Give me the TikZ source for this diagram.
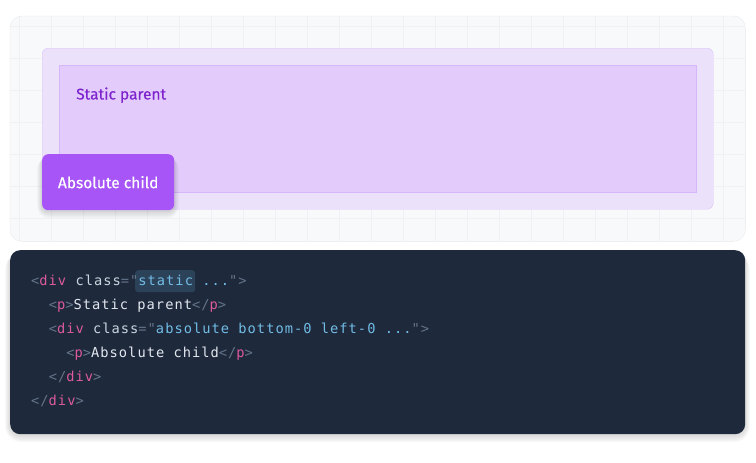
\documentclass[tikz,border=0pt]{standalone}
\usepackage{fontspec}
\usepackage{xcolor}
\setsansfont{Fira Sans}[FakeBold=0.35]
\newfontfamily\codefont[LetterSpace=7.5]{DejaVu Sans Mono}
\usetikzlibrary{positioning}
\usetikzlibrary{shadows}

\definecolor{stagebg}{HTML}{F8F9FB}
\definecolor{stageline}{HTML}{E5E7EB}
\definecolor{gridline}{HTML}{F0F1F4}
\definecolor{wrapfill}{HTML}{EBE1FB}
\definecolor{wrapline}{HTML}{DCC2FA}
\definecolor{parentfill}{HTML}{E3CCFC}
\definecolor{parentline}{HTML}{D5B6F8}
\definecolor{parenttext}{HTML}{7E22CE}
\definecolor{childfill}{HTML}{A855F7}
\definecolor{codebg}{HTML}{1E293B}
\definecolor{codehl}{HTML}{2C4259}
\definecolor{tagpink}{HTML}{DC5AA0}
\definecolor{puncgray}{HTML}{64748B}
\definecolor{attrgray}{HTML}{CBD5E1}
\definecolor{valblue}{HTML}{72BCE6}
\definecolor{plaintext}{HTML}{E2E8F0}

\newcommand\ctag[1]{\textcolor{tagpink}{#1}}
\newcommand\cpun[1]{\textcolor{puncgray}{#1}}
\newcommand\cattr[1]{\textcolor{attrgray}{#1}}
\newcommand\cval[1]{\textcolor{valblue}{#1}}
\newcommand\ctxt[1]{\textcolor{plaintext}{#1}}

\tikzset{
  box/.style={anchor=north west, inner sep=0pt},
  codeline/.style={anchor=base west, inner sep=0pt, font=\codefont\fontsize{13.7}{16}\selectfont},
  softshadow/.style={fill=black, fill opacity=0.025},
}

\begin{document}
\begin{tikzpicture}[x=1pt,y=-1pt]
  \useasboundingbox (0,0) rectangle (756,463);
  % demo area
  \node(stage) [box, fill=stagebg, rounded corners=12pt, minimum width=735pt, minimum height=225pt] at (10,16) {};
  \begin{scope}
    \clip[rounded corners=12pt] (10,16) rectangle (745,241);
    \foreach \gx in {19,51,...,755} \draw[gridline, line width=0.6pt] (\gx,16) -- (\gx,241);
    \foreach \gy in {26,58,...,241} \draw[gridline, line width=0.6pt] (10,\gy) -- (745,\gy);
  \end{scope}
  \draw[stageline, rounded corners=12pt] (stage.north west) rectangle (stage.south east);
  \node(wrap) [box, fill=wrapfill, draw=wrapline, rounded corners=6pt, minimum width=671pt, minimum height=161pt] at (42,48) {};
  \node(parent) [box, fill=parentfill, draw=parentline, minimum width=637pt, minimum height=127pt] at (59,65) {};
  \node(parentlabel) [anchor=base west, inner sep=0pt, text=parenttext, font=\sffamily\fontsize{15.5}{16}\selectfont] at (76,99.5) {Static parent};
  % soft shadow under the child
  \foreach \s in {1,2,...,6}
    \fill[softshadow, rounded corners=6pt+\s pt] (42-\s*0.8,154+3) rectangle (174+\s*0.8,210+1+\s*1.2);
  \node(child) [box, fill=childfill, rounded corners=6pt, minimum width=132pt, minimum height=56pt] at (42,154) {};
  \node(childlabel) [text=white, font=\sffamily\fontsize{15.5}{16}\selectfont] at (child.center) {Absolute child};

  % code area
  \foreach \s in {1,2,...,6}
    \fill[softshadow, rounded corners=10pt+\s pt] (10-\s*0.8,250+3) rectangle (745+\s*0.8,434+1+\s*1.2);
  \node(code) [box, fill=codebg, rounded corners=10pt, minimum width=735pt, minimum height=184pt] at (10,250) {};
  \node(hl) [box, fill=codehl, rounded corners=3pt, minimum width=60pt, minimum height=22pt] at (135,270) {};
  \node(line1) [codeline] at (31,285) {\cpun{<}\ctag{div} \cattr{class}\cpun{="}\cval{static ...}\cpun{">}};
  \node(line2) [codeline] at (48.6,309) {\cpun{<}\ctag{p}\cpun{>}\ctxt{Static parent}\cpun{</}\ctag{p}\cpun{>}};
  \node(line3) [codeline] at (48.6,333) {\cpun{<}\ctag{div} \cattr{class}\cpun{="}\cval{absolute bottom-0 left-0 ...}\cpun{">}};
  \node(line4) [codeline] at (66.2,357) {\cpun{<}\ctag{p}\cpun{>}\ctxt{Absolute child}\cpun{</}\ctag{p}\cpun{>}};
  \node(line5) [codeline] at (48.6,381) {\cpun{</}\ctag{div}\cpun{>}};
  \node(line6) [codeline] at (31,405) {\cpun{</}\ctag{div}\cpun{>}};
\end{tikzpicture}
\end{document}
